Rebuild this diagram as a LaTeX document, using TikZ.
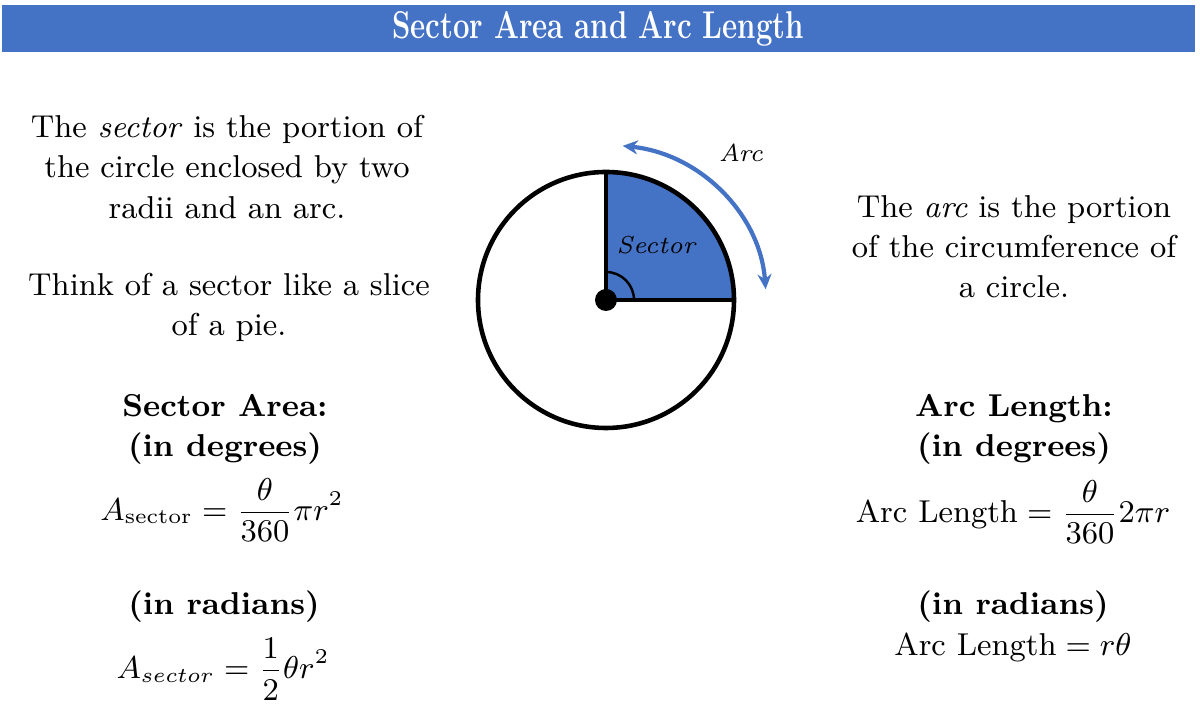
\documentclass[tikz,border=0pt]{standalone}
\usepackage{amsmath}
\usepackage{graphicx}
\usetikzlibrary{arrows.meta}
\definecolor{secblue}{HTML}{4472C4}

\begin{document}
\begin{tikzpicture}[
    txt/.style={align=center, font=\fontsize{9}{11.4}\selectfont},
    hdr/.style={align=center, font=\fontsize{9}{11.4}\selectfont\bfseries},
    eqn/.style={font=\fontsize{9}{11.4}\selectfont},
    lbl/.style={font=\fontsize{7}{8}\selectfont\itshape}
  ]
  \useasboundingbox (0,0) rectangle (12,7.1);
  % title bar
  \fill[secblue] (0.02,6.58) rectangle (11.95,7.05);
  \node[font=\fontsize{11}{12}\selectfont\bfseries, text=white] (title) at (5.98,6.815) {\scalebox{0.76}[1]{Sector Area and Arc Length}};

  % circle with the shaded quarter
  \coordinate (O) at (6.06,4.10);
  \fill[secblue] (O) -- ++(1.28,0) arc (0:90:1.28) -- cycle;
  \draw[line width=1.3pt] (O) circle (1.28);
  \draw[line width=1.3pt] (O) -- ++(1.28,0) (O) -- ++(0,1.28);
  \draw[line width=0.7pt] ([shift={(0.28,0)}]O) arc (0:90:0.28);
  \fill (O) circle (0.11);
  \draw[secblue, line width=1.2pt, {Stealth[length=1.5mm,width=1.4mm]}-{Stealth[length=1.5mm,width=1.4mm]}] ([shift={(84:1.6 and 1.55)}]O) arc[start angle=84, end angle=4, x radius=1.6, y radius=1.55];
  \node[lbl] (arclbl) at (7.41,5.57) {Arc};
  \node[lbl] (seclbl) at (6.56,4.65) {Sector};

  % left column
  \node[txt] (sectxt) at (2.27,5.43) {The \textit{sector} is the portion of\\the circle enclosed by two\\radii and an arc.};
  \node[txt] (pietxt) at (2.29,4.03) {Think of a sector like a slice\\of a pie.};
  \node[hdr] (areahdr) at (2.25,2.81) {Sector Area:\\(in degrees)};
  \node[eqn] (areadeg) at (2.22,2.00) {$\displaystyle A_{\text{sector}} = \frac{\theta}{360}\pi r^2$};
  \node[hdr] (arearad) at (2.24,1.03) {(in radians)};
  \node[eqn] (areaeq) at (2.23,0.41) {$\displaystyle A_{sector} = \frac{1}{2}\theta r^2$};

  % right column
  \node[txt] (arctxt) at (10.14,4.63) {The \textit{arc} is the portion\\of the circumference of\\a circle.};
  \node[hdr] (lenhdr) at (10.14,2.81) {Arc Length:\\(in degrees)};
  \node[eqn] (lendeg) at (10.13,1.98) {$\displaystyle \text{Arc Length} = \frac{\theta}{360}2\pi r$};
  \node[hdr] (lenrad) at (10.13,1.03) {(in radians)};
  \node[eqn] (leneq) at (10.13,0.63) {$\displaystyle \text{Arc Length} = r\theta$};
\end{tikzpicture}
\end{document}
